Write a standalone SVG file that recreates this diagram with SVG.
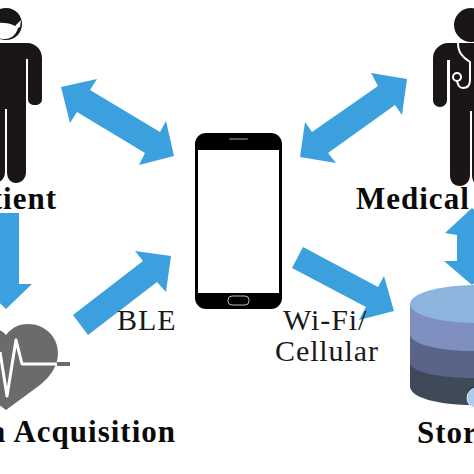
<svg xmlns="http://www.w3.org/2000/svg" width="474" height="474" viewBox="0 0 474 474">
<style>
.arrow{fill:#3ba0dd}
.ink{fill:#1a1617}
.title{font-family:"Liberation Serif",serif;font-weight:700;font-size:31px;letter-spacing:1px;fill:#0a0a0a}
.label{font-family:"Liberation Serif",serif;font-size:30px;letter-spacing:.9px;fill:#1a1a1a}
.steth{fill:none;stroke:#fff;stroke-width:2}
</style>
<rect width="474" height="474" fill="#fff"/>
<g id="connectors">
<polygon class="arrow" points="61,87 97,79 90,90 160,132 166,121 174,156 139,165 145,153 77,112 70,123"/>
<polygon class="arrow" points="407,79 371,73 378,86 312,132 305,122 300,157 336,163 328,153 395,105 402,115"/>
<polygon class="arrow" points="-7,213 19,213 19,284 32,284 6,309 -20,284 -7,284"/>
<polygon class="arrow" points="73,315 143,261 135,251 171,256 166,292 157,282 88,335"/>
<polygon class="arrow" points="303,247 378,287 384,276 394,311 359,320 366,307 292,268"/>
<polygon class="arrow" points="472,208 445,233 457,235 457,261 444,261 472,285 500,261 487,261 487,235 500,233"/>
</g>
<g id="patient">
<path class="ink" d="M6 8C16 8 22 16 22 24C22 33 15 40 6 40C-3 40-10 33-10 24C-10 16-4 8 6 8Z"/>
<path fill="#fff" d="M-10 25C-4 22 8 22 15 26L21 20L20 27L18 28C16 35 11 39 5 39C-2 39-10 36-10 25Z"/>
<path class="ink" d="M-14 43H27C36 43 42 50 42 58V99C42 103 39 105 35 105C31 105 28 103 28 99V59H26V172C26 179 21 183 16 183C11 183 7 179 7 172V109H5V172C5 179 0 183-5 183C-10 183-14 179-14 172Z"/>
<text class="title" x="57" y="209" text-anchor="end">Patient</text>
</g>
<g id="doctor">
<circle class="ink" cx="471" cy="25" r="17"/>
<path class="ink" d="M448 43H495C503 43 509 50 509 58V100C509 104 505 107 502 107C498 107 495 104 495 100V60H492V175C492 182 487 186 481 186C476 186 472 182 472 175V111H470V175C470 182 465 186 460 186C454 186 450 182 450 175V60H447V100C447 104 444 107 440 107C436 107 433 104 433 100V58C433 50 440 43 448 43Z"/>
<path class="steth" d="M458 43C458 52 462 57 470 62V80C470 86 467 88 463 88C459 88 458 85 457 81"/>
<circle class="steth" cx="457" cy="77" r="4"/>
<text class="title" x="356" y="209">Medical</text>
</g>
<g id="phone">
<rect x="195" y="133" width="87" height="176" rx="11" fill="#000"/>
<rect x="198" y="150" width="81" height="143" fill="#fff"/>
<rect x="229" y="138" width="19" height="2" rx="1" fill="#555"/>
<rect x="228" y="296" width="21" height="9" rx="4" fill="none" stroke="#bbb" stroke-width="1"/>
</g>
<g id="acquisition">
<path fill="#6b6b6b" d="M6 335C12 327 20 324 28 324C45 324 58 337 58 353C58 366 50 377 40 385L6 410L-20 390V335C-10 325 0 328 6 335Z"/>
<path fill="none" stroke="#fff" stroke-width="3" stroke-linejoin="round" d="M0 352L7 396L16 340L22 364H56"/>
<rect x="57" y="362" width="13" height="4" fill="#6b6b6b"/>
<text class="title" x="176" y="442" text-anchor="end">Data Acquisition</text>
</g>
<g id="ble"><text class="label" x="117" y="330">BLE</text></g>
<g id="wifi">
<text class="label" x="283" y="330">Wi-Fi/</text>
<text class="label" x="275" y="361">Cellular</text>
</g>
<g id="storage">
<path fill="#3e4a58" d="M410 360V386C410 398 438 405 475 405S540 398 540 386V360Z"/>
<path fill="#5a6488" d="M410 332V362C410 372 438 378 475 378S540 372 540 362V332Z"/>
<path fill="#7f8fc0" d="M410 304V334C410 344 438 351 475 351S540 344 540 334V304Z"/>
<ellipse cx="475" cy="304" rx="65" ry="19" fill="#8db4dc"/>
<circle cx="477" cy="398" r="10" fill="#a9cdf0" stroke="#dce9f5" stroke-width="1"/>
<text class="title" x="417" y="443">Storage</text>
</g>
</svg>
